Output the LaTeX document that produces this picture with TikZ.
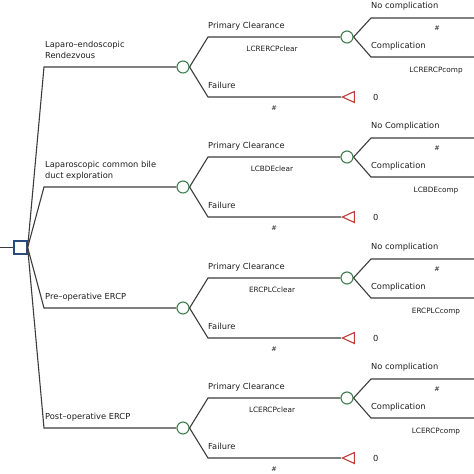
\documentclass[tikz,border=0pt]{standalone}
\usepackage{fontspec}
\setmainfont{DejaVu Sans}
\usetikzlibrary{shapes.geometric}
\definecolor{ln}{HTML}{3C3C3C}
\definecolor{txt}{HTML}{1E1E1E}
\definecolor{grn}{HTML}{3F7F4F}
\definecolor{tred}{HTML}{C43A3A}
\definecolor{dblue}{HTML}{2B4A7E}
\begin{document}
\begin{tikzpicture}[x=1pt,y=-1pt]
\useasboundingbox[fill=white] (0,0) rectangle (474,474);
\tikzset{
  lbl/.style={font=\fontsize{8.3}{10}\selectfont, text=txt, inner sep=0, anchor=base west},
  varlbl/.style={font=\fontsize{7.3}{9}\selectfont, text=txt, inner sep=0, anchor=base},
  hashlbl/.style={font=\fontsize{6.5}{8}\selectfont\itshape, text=txt, inner sep=0, anchor=base},
  chance/.style={circle, draw=grn, line width=1.1pt, minimum size=12pt, inner sep=0pt, fill=white},
  term/.style={isosceles triangle, shape border rotate=180, isosceles triangle stretches,
    draw=tred, line width=1.1pt, minimum height=12pt, minimum width=11pt, inner sep=0pt, anchor=apex},
  dec/.style={rectangle, draw=dblue, minimum size=13pt, inner sep=0pt, line width=1.3pt, fill=white},
  edge/.style={draw=ln, line width=1.1pt}
}
% decision node
\node[dec] (d) at (20.5,247.5) {};
\coordinate (s) at (0,247.5);
\draw[edge] (s) -- (d.west);

\foreach \i/\y/\clr/\cmp/\nc in {
  1/67/LCRERCPclear/LCRERCPcomp/No complication,
  2/187/LCBDEclear/LCBDEcomp/No Complication,
  3/308/ERCPLCclear/ERCPLCcomp/No complication,
  4/428/LCERCPclear/LCERCPcomp/No complication}{
  \pgfmathsetmacro{\ya}{\y-30}
  \pgfmathsetmacro{\yb}{\y+30}
  \pgfmathsetmacro{\yc}{\y-49}
  \pgfmathsetmacro{\yd}{\y-10}
  \node[chance] (c\i) at (183,\y) {};
  \node[chance] (cc\i) at (347,\ya) {};
  \node[term] (t\i) at (341,\yb) {};
  \coordinate (nc\i) at (474,\yc);
  \coordinate (cp\i) at (474,\yd);
  \draw[edge] (d.east) -- (44,\y) -- (c\i.west);
  \draw[edge] (c\i.east) -- (208,\ya) -- (cc\i.west);
  \draw[edge] (c\i.east) -- (208,\yb) -- (t\i.apex);
  \draw[edge] (cc\i.east) -- (371,\yc) -- (nc\i);
  \draw[edge] (cc\i.east) -- (371,\yd) -- (cp\i);
  \node[lbl] (pc\i) at (208,\y-39) {Primary Clearance};
  \node[varlbl] (vc\i) at (272,\y-16) {\clr};
  \node[lbl] (fl\i) at (208,\y+21) {Failure};
  \node[hashlbl] (hf\i) at (274,\y+43) {\#};
  \node[lbl] (nl\i) at (371,\y-59) {\nc};
  \node[hashlbl] (hn\i) at (437,\y-37) {\#};
  \node[lbl] (cl\i) at (371,\y-19) {Complication};
  \node[varlbl] (vp\i) at (436,\y+5) {\cmp};
  \node[lbl] (z\i) at (373,\y+33) {0};
}
\node[lbl] (b1a) at (45,47) {Laparo–endoscopic};
\node[lbl] (b1b) at (45,58) {Rendezvous};
\node[lbl] (b2a) at (45,167) {Laparoscopic common bile};
\node[lbl] (b2b) at (45,178) {duct exploration};
\node[lbl] (b3) at (45,299) {Pre–operative ERCP};
\node[lbl] (b4) at (45,419) {Post–operative ERCP};
\end{tikzpicture}
\end{document}
